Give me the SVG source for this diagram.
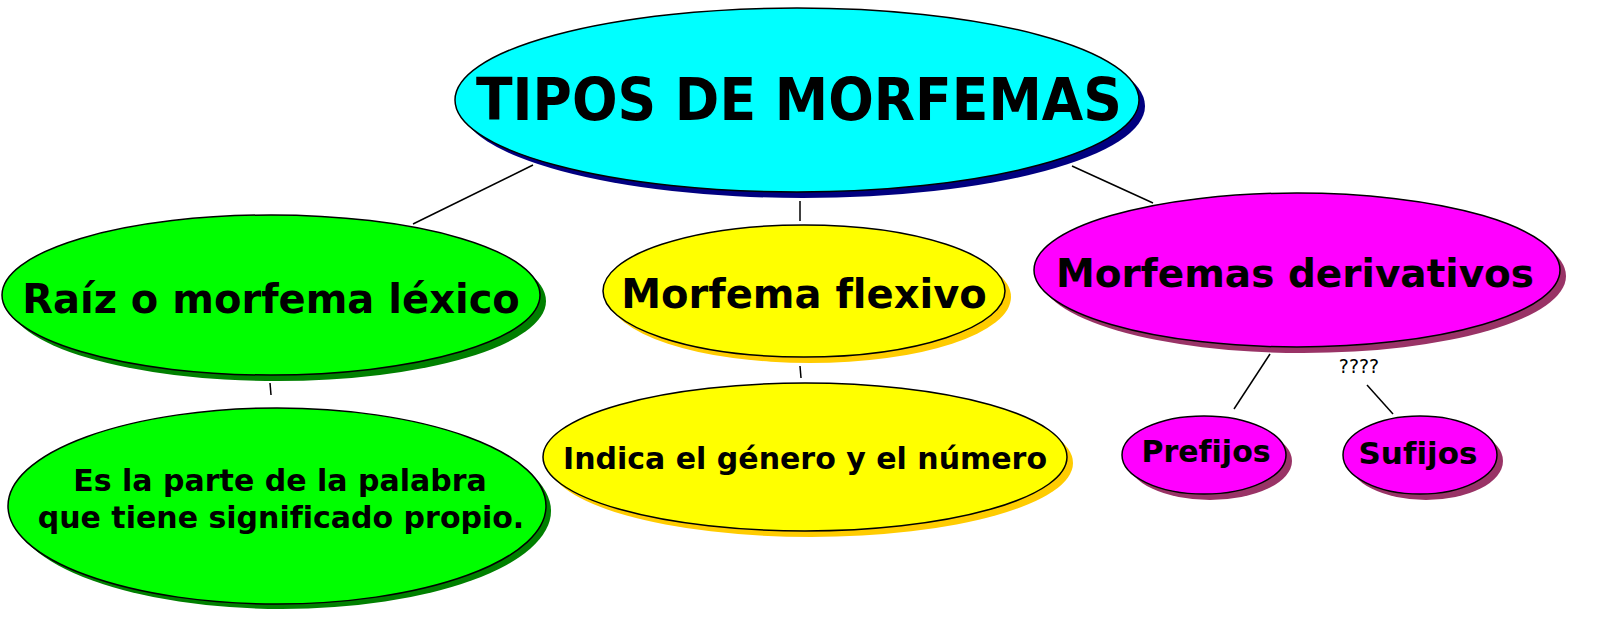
<svg xmlns="http://www.w3.org/2000/svg" width="1600" height="627" viewBox="0 0 1600 627">
<style>
.o{stroke:#000;stroke-width:1.5}
.t{font-family:"DejaVu Sans",Verdana,sans-serif;font-weight:bold;fill:#000;text-anchor:middle;font-variant-ligatures:none}
.c{stroke:#000;stroke-width:1.5;fill:none}
</style>
<rect width="1600" height="627" fill="#fff"/>
<g id="connectors">
<line class="c" x1="533" y1="165" x2="413" y2="224"/>
<line class="c" x1="800" y1="201" x2="800" y2="221"/>
<line class="c" x1="1072" y1="166" x2="1153" y2="203"/>
<line class="c" x1="270" y1="383" x2="271" y2="395"/>
<line class="c" x1="800" y1="366" x2="801" y2="378"/>
<line class="c" x1="1270" y1="354" x2="1234" y2="409"/>
<line class="c" x1="1367" y1="385" x2="1393" y2="414"/>
<text x="1359" y="373" style="font-family:'DejaVu Sans',sans-serif;font-size:19px;text-anchor:middle">????</text>
</g>
<g id="tipos">
<ellipse cx="803" cy="106" rx="342" ry="92" fill="#000080"/>
<ellipse class="o" cx="797" cy="100" rx="342" ry="92" fill="#00ffff"/>
<text class="t" x="799" y="120" font-size="58" textLength="646" lengthAdjust="spacingAndGlyphs">TIPOS DE MORFEMAS</text>
</g>
<g id="raiz">
<ellipse cx="277" cy="301" rx="269" ry="80" fill="#008000"/>
<ellipse class="o" cx="271" cy="295" rx="269" ry="80" fill="#00ff00"/>
<text class="t" x="271" y="313" font-size="40">Raíz o morfema léxico</text>
</g>
<g id="raiz-def">
<ellipse cx="282" cy="511" rx="269" ry="98" fill="#008000"/>
<ellipse class="o" cx="277" cy="506" rx="269" ry="98" fill="#00ff00"/>
<text class="t" x="280" y="491" font-size="30">Es la parte de la palabra</text>
<text class="t" x="281" y="528" font-size="30">que tiene significado propio.</text>
</g>
<g id="flexivo">
<ellipse cx="810" cy="297" rx="201" ry="66" fill="#ffcc00"/>
<ellipse class="o" cx="804" cy="291" rx="201" ry="66" fill="#ffff00"/>
<text class="t" x="804" y="308" font-size="40">Morfema flexivo</text>
</g>
<g id="flexivo-def">
<ellipse cx="811" cy="463" rx="262" ry="74" fill="#ffcc00"/>
<ellipse class="o" cx="805" cy="457" rx="262" ry="74" fill="#ffff00"/>
<text class="t" x="805" y="469" font-size="30">Indica el género y el número</text>
</g>
<g id="derivativos">
<ellipse cx="1303" cy="276" rx="263" ry="77" fill="#993366"/>
<ellipse class="o" cx="1297" cy="270" rx="263" ry="77" fill="#ff00ff"/>
<text class="t" x="1295" y="287" font-size="39">Morfemas derivativos</text>
</g>
<g id="prefijos">
<ellipse cx="1210" cy="461" rx="82" ry="39" fill="#993366"/>
<ellipse class="o" cx="1204" cy="455" rx="82" ry="39" fill="#ff00ff"/>
<text class="t" x="1206" y="462" font-size="30">Prefijos</text>
</g>
<g id="sufijos">
<ellipse cx="1426" cy="461" rx="77" ry="39" fill="#993366"/>
<ellipse class="o" cx="1420" cy="455" rx="77" ry="39" fill="#ff00ff"/>
<text class="t" x="1418" y="464" font-size="31">Sufijos</text>
</g>
</svg>
